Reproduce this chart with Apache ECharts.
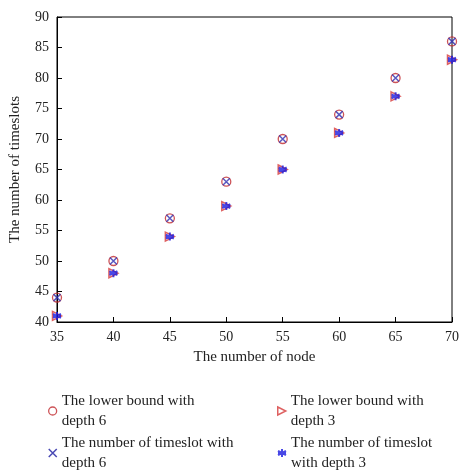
<!DOCTYPE html>
<html><head><meta charset="utf-8">
<script src="https://cdn.jsdelivr.net/npm/echarts@6/dist/echarts.min.js"></script>
<style>html,body{margin:0;background:#fff}#chart{width:474px;height:474px}</style>
</head><body><div id="chart"></div>
<script>
let nodes = [35, 40, 45, 50, 55, 60, 65, 70];
let lowerD6 = [44, 50, 57, 63, 70, 74, 80, 86];
let slotD6 = [44, 50, 57, 63, 70, 74, 80, 86];
let lowerD3 = [41, 48, 54, 59, 65, 71, 77, 83];
let slotD3 = [41, 48, 54, 59, 65, 71, 77, 83];

const F = 'Liberation Serif';
const CROSS = 'path://M0,0L10,10M10,0L0,10';
const STAR = 'path://M5,0L5,10M0,2.5L10,7.5M10,2.5L0,7.5M0,5L10,5';
const TRI = 'path://M0,0L10,5L0,10Z';

function pts(ys) { return nodes.map((x, i) => [x, ys[i]]); }
function ser(name, ys, symbol, size, color, fill, bw) {
    return {
        name: name, type: 'scatter', data: pts(ys), symbol: symbol, symbolSize: size,
        itemStyle: {color: fill, borderColor: color, borderWidth: bw}
    };
}
function leg(name, left, top, icon, color, fill, bw) {
    return {
        data: [{name: name, icon: icon, itemStyle: {color: fill, borderColor: color, borderWidth: bw}}],
        left: left, top: top, orient: 'vertical', itemWidth: 8, itemHeight: 8, itemGap: 0,
        textStyle: {fontFamily: F, fontSize: 15, color: '#222', lineHeight: 20}, selectedMode: false
    };
}

let chart = echarts.init(document.getElementById('chart'));
chart.setOption({
    animation: false,
    grid: {left: 57, right: 22, top: 17, bottom: 152, show: true, borderColor: '#000', borderWidth: 1},
    xAxis: {
        type: 'value', min: 35, max: 70, interval: 5,
        name: 'The number of node', nameLocation: 'middle', nameGap: 28,
        nameTextStyle: {fontFamily: F, fontSize: 15, color: '#222'},
        axisLine: {lineStyle: {color: '#000'}}, axisTick: {inside: true, length: 5, lineStyle: {color: '#000'}},
        axisLabel: {fontFamily: F, fontSize: 14, color: '#222'}, splitLine: {show: false}
    },
    yAxis: {
        type: 'value', min: 40, max: 90, interval: 5,
        name: 'The number of timeslots', nameLocation: 'middle', nameGap: 34,
        nameTextStyle: {fontFamily: F, fontSize: 15, color: '#222'},
        axisLine: {show: true, lineStyle: {color: '#000'}}, axisTick: {inside: true, length: 5, lineStyle: {color: '#000'}},
        axisLabel: {fontFamily: F, fontSize: 14, color: '#222'}, splitLine: {show: false}
    },
    legend: [
        leg('The lower bound with\ndepth 6', 43, 386, 'circle', '#c0282d', 'transparent', 1.3),
        leg('The lower bound with\ndepth 3', 272, 386, TRI, '#d63a3a', 'transparent', 1.5),
        leg('The number of timeslot with\ndepth 6', 43, 428, CROSS, '#1a1aa0', 'transparent', 1.5),
        leg('The number of timeslot\nwith depth 3', 272, 428, STAR, '#1a1ae0', 'transparent', 2)
    ],
    series: [
        ser('The lower bound with\ndepth 6', lowerD6, 'circle', 9, '#c0282d', 'transparent', 1.3),
        ser('The number of timeslot with\ndepth 6', slotD6, CROSS, 7, '#3030b0', 'transparent', 1.5),
        ser('The lower bound with\ndepth 3', lowerD3, TRI, 9, '#d63a3a', 'transparent', 1.5),
        ser('The number of timeslot\nwith depth 3', slotD3, STAR, 8, '#1a1ae0', 'transparent', 2)
    ]
});
</script></body></html>
